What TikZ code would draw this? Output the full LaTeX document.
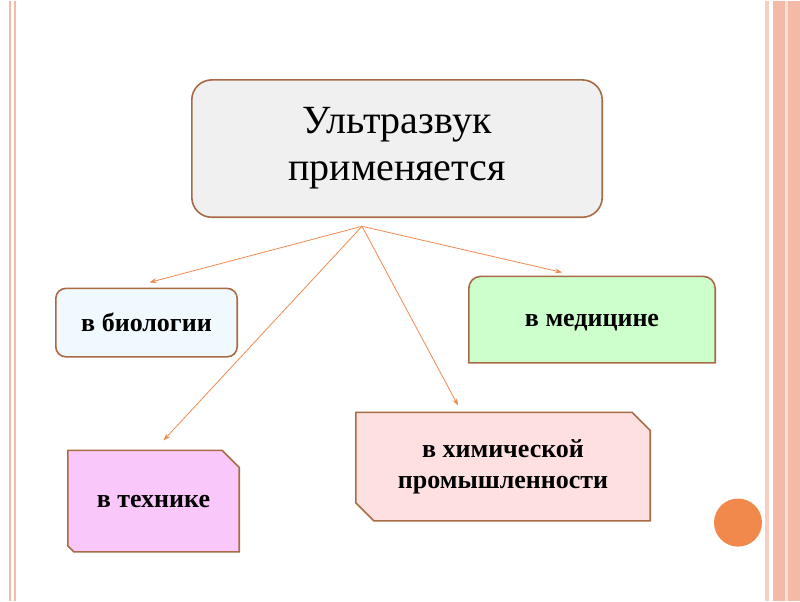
\documentclass[tikz,border=0pt]{standalone}
\usepackage{fontspec}
\setmainfont{Liberation Serif}
\usetikzlibrary{arrows.meta,calc}
\definecolor{edge}{HTML}{A86B45}
\definecolor{arr}{HTML}{F08A50}
\definecolor{rim}{HTML}{F5B9A8}

\begin{document}
\begin{tikzpicture}[
    x=1pt, y=-1pt,
    box/.style={draw=none, minimum width=#1, inner sep=0pt, align=center},
    outline/.style={draw=edge, line width=1.6pt},
    label/.style={font=\fontsize{26}{31}\selectfont\bfseries},
    arrow/.style={-{Stealth[length=7pt,width=5pt]}, draw=arr, line width=0.8pt}
]
    % frame
    \fill[white] (0,0) rectangle (800,600);
    \draw[rim, line width=1.2pt] (10,0) -- (10,600);
    \draw[rim, line width=1.2pt] (15,0) -- (15,600);
    \fill[rim!70] (765,0) rectangle (769,600);
    \fill[rim] (773,0) rectangle (800,600);
    \fill[rim!40] (785,0) rectangle (788,600);
    \fill[arr!95!orange] (738,522) circle (24);

    % boxes
    \node (main) [box=410pt, minimum height=137pt] at (397,148) {};
    \draw[outline, fill=gray!12, rounded corners=20pt]
        (main.north west) rectangle (main.south east);
    \node [align=center, font=\fontsize{40}{47}\selectfont] at (main) {Ультразвук\\применяется};

    \node (bio) [box=181pt, minimum height=68pt] at (146.5,322) {};
    \draw[outline, fill=cyan!6, rounded corners=10pt]
        (bio.north west) rectangle (bio.south east);
    \node [label] at (bio) {в биологии};

    \node (med) [box=246pt, minimum height=86pt] at (592,319) {};
    \draw[outline, fill=green!20]
        (med.south west) [rounded corners=12pt] -- (med.north west) -- (med.north east)
        [sharp corners] -- (med.south east) -- cycle;
    \node [label] at ($(med)+(0,3)$) {в медицине};

    \node (tech) [box=171pt, minimum height=101pt] at (153.5,500.5) {};
    \draw[outline, fill=violet!20!magenta!22]
        (tech.north west) -- ($(tech.north east)+(-17,0)$) -- ($(tech.north east)+(0,17)$)
        -- (tech.south east) -- ($(tech.south west)+(6,0)$) -- ($(tech.south west)+(0,-6)$) -- cycle;
    \node [label] at (tech) {в технике};

    \node (chem) [box=294pt, minimum height=108pt] at (503,466) {};
    \draw[outline, fill=red!12]
        (chem.north west) -- ($(chem.north east)+(-18,0)$) -- ($(chem.north east)+(0,18)$)
        -- (chem.south east) -- ($(chem.south west)+(18,0)$) -- ($(chem.south west)+(0,-18)$) -- cycle;
    \node [label, align=center] at (chem) {в химической\\промышленности};

    % connectors
    \coordinate (src) at ($(main.south)+(-35,9)$);
    \draw [arrow] (src) -- ($(bio.north)+(3,-6)$);
    \draw [arrow] (src) -- ($(med.north)+(-30,-4)$);
    \draw [arrow] (src) -- ($(tech.north)+(10,-10)$);
    \draw [arrow] (src) -- ($(chem.north)+(-45,-7)$);
\end{tikzpicture}
\end{document}
